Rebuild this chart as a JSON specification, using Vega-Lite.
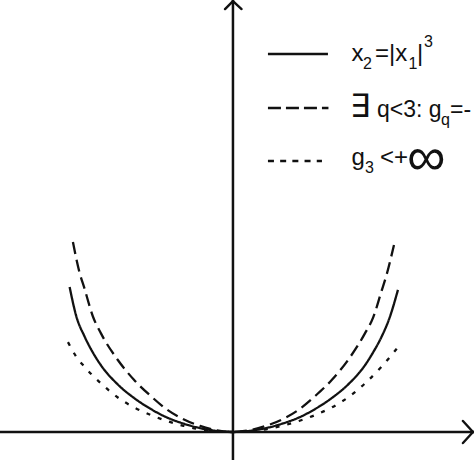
{
  "$schema": "https://vega.github.io/schema/vega-lite/v6.json",
  "width": 474,
  "height": 463,
  "autosize": {"type": "none"},
  "padding": 0,
  "background": "white",
  "config": {"view": {"stroke": null}, "text": {"font": "Liberation Sans", "color": "#111", "align": "left", "baseline": "alphabetic"}},
  "data": {"values": [{}]},
  "datasets": {
    "curves": [
      {"series": "solid", "x1": -0.99, "x2": 1.0},
      {"series": "solid", "x1": -0.95, "x2": 0.8},
      {"series": "solid", "x1": -0.9, "x2": 0.66},
      {"series": "solid", "x1": -0.85, "x2": 0.55},
      {"series": "solid", "x1": -0.8, "x2": 0.46},
      {"series": "solid", "x1": -0.7, "x2": 0.33},
      {"series": "solid", "x1": -0.6, "x2": 0.235},
      {"series": "solid", "x1": -0.5, "x2": 0.16},
      {"series": "solid", "x1": -0.4, "x2": 0.1},
      {"series": "solid", "x1": -0.3, "x2": 0.058},
      {"series": "solid", "x1": -0.2, "x2": 0.027},
      {"series": "solid", "x1": -0.1, "x2": 0.008},
      {"series": "solid", "x1": 0, "x2": 0},
      {"series": "solid", "x1": 0.1, "x2": 0.008},
      {"series": "solid", "x1": 0.2, "x2": 0.027},
      {"series": "solid", "x1": 0.3, "x2": 0.058},
      {"series": "solid", "x1": 0.4, "x2": 0.1},
      {"series": "solid", "x1": 0.5, "x2": 0.16},
      {"series": "solid", "x1": 0.6, "x2": 0.235},
      {"series": "solid", "x1": 0.7, "x2": 0.33},
      {"series": "solid", "x1": 0.8, "x2": 0.46},
      {"series": "solid", "x1": 0.85, "x2": 0.55},
      {"series": "solid", "x1": 0.9, "x2": 0.655},
      {"series": "solid", "x1": 0.95, "x2": 0.79},
      {"series": "solid", "x1": 1.0, "x2": 0.98},
      {"series": "dashed", "x1": -0.97, "x2": 1.31},
      {"series": "dashed", "x1": -0.93, "x2": 1.1},
      {"series": "dashed", "x1": -0.9, "x2": 0.99},
      {"series": "dashed", "x1": -0.85, "x2": 0.8},
      {"series": "dashed", "x1": -0.8, "x2": 0.68},
      {"series": "dashed", "x1": -0.7, "x2": 0.5},
      {"series": "dashed", "x1": -0.6, "x2": 0.36},
      {"series": "dashed", "x1": -0.5, "x2": 0.25},
      {"series": "dashed", "x1": -0.4, "x2": 0.155},
      {"series": "dashed", "x1": -0.3, "x2": 0.088},
      {"series": "dashed", "x1": -0.2, "x2": 0.042},
      {"series": "dashed", "x1": -0.1, "x2": 0.012},
      {"series": "dashed", "x1": 0, "x2": 0},
      {"series": "dashed", "x1": 0.1, "x2": 0.012},
      {"series": "dashed", "x1": 0.2, "x2": 0.042},
      {"series": "dashed", "x1": 0.3, "x2": 0.088},
      {"series": "dashed", "x1": 0.4, "x2": 0.155},
      {"series": "dashed", "x1": 0.5, "x2": 0.25},
      {"series": "dashed", "x1": 0.6, "x2": 0.36},
      {"series": "dashed", "x1": 0.7, "x2": 0.5},
      {"series": "dashed", "x1": 0.8, "x2": 0.68},
      {"series": "dashed", "x1": 0.85, "x2": 0.79},
      {"series": "dashed", "x1": 0.9, "x2": 0.97},
      {"series": "dashed", "x1": 0.93, "x2": 1.08},
      {"series": "dashed", "x1": 0.976, "x2": 1.29},
      {"series": "dotted", "x1": -1.0, "x2": 0.62},
      {"series": "dotted", "x1": -0.95, "x2": 0.52},
      {"series": "dotted", "x1": -0.9, "x2": 0.45},
      {"series": "dotted", "x1": -0.8, "x2": 0.335},
      {"series": "dotted", "x1": -0.7, "x2": 0.24},
      {"series": "dotted", "x1": -0.6, "x2": 0.17},
      {"series": "dotted", "x1": -0.5, "x2": 0.118},
      {"series": "dotted", "x1": -0.4, "x2": 0.076},
      {"series": "dotted", "x1": -0.3, "x2": 0.043},
      {"series": "dotted", "x1": -0.2, "x2": 0.019},
      {"series": "dotted", "x1": -0.1, "x2": 0.005},
      {"series": "dotted", "x1": 0, "x2": 0},
      {"series": "dotted", "x1": 0.1, "x2": 0.005},
      {"series": "dotted", "x1": 0.2, "x2": 0.019},
      {"series": "dotted", "x1": 0.3, "x2": 0.043},
      {"series": "dotted", "x1": 0.4, "x2": 0.076},
      {"series": "dotted", "x1": 0.5, "x2": 0.118},
      {"series": "dotted", "x1": 0.6, "x2": 0.17},
      {"series": "dotted", "x1": 0.7, "x2": 0.24},
      {"series": "dotted", "x1": 0.8, "x2": 0.335},
      {"series": "dotted", "x1": 0.9, "x2": 0.45},
      {"series": "dotted", "x1": 0.95, "x2": 0.515},
      {"series": "dotted", "x1": 1.02, "x2": 0.614}
    ]
  },
  "layer": [
    {
      "data": {"name": "curves"},
      "mark": {"type": "line", "color": "#111", "strokeWidth": 2.3, "interpolate": "monotone", "clip": false},
      "encoding": {
        "x": {"field": "x1", "type": "quantitative", "scale": {"domain": [-1.412, 1.461], "nice": false, "zero": false}, "axis": null},
        "y": {"field": "x2", "type": "quantitative", "scale": {"domain": [-0.2138, 2.9793], "nice": false, "zero": false}, "axis": null},
        "strokeDash": {"field": "series", "type": "nominal", "scale": {"domain": ["solid", "dashed", "dotted"], "range": [[1, 0], [12, 6], [4, 8]]}, "legend": null},
        "detail": {"field": "series"}
      }
    },
    {
      "mark": {"type": "rule", "color": "#111", "strokeWidth": 2.5},
      "encoding": {"x": {"datum": 0}, "y": {"datum": -0.193}, "y2": {"datum": 2.979}}
    },
    {
      "mark": {"type": "rule", "color": "#111", "strokeWidth": 2.5},
      "encoding": {"x": {"datum": -1.412}, "x2": {"datum": 1.461}, "y": {"datum": 0}}
    },
    {
      "mark": {"type": "rule", "color": "#111", "strokeWidth": 2.4, "strokeCap": "round"},
      "encoding": {"x": {"datum": -0.048}, "x2": {"datum": 0}, "y": {"datum": 2.917}, "y2": {"datum": 2.972}}
    },
    {
      "mark": {"type": "rule", "color": "#111", "strokeWidth": 2.4, "strokeCap": "round"},
      "encoding": {"x": {"datum": 0.052}, "x2": {"datum": 0}, "y": {"datum": 2.917}, "y2": {"datum": 2.972}}
    },
    {
      "mark": {"type": "rule", "color": "#111", "strokeWidth": 2.4, "strokeCap": "round"},
      "encoding": {"x": {"datum": 1.394}, "x2": {"datum": 1.455}, "y": {"datum": 0.076}, "y2": {"datum": 0}}
    },
    {
      "mark": {"type": "rule", "color": "#111", "strokeWidth": 2.4, "strokeCap": "round"},
      "encoding": {"x": {"datum": 1.394}, "x2": {"datum": 1.455}, "y": {"datum": -0.076}, "y2": {"datum": 0}}
    },
    {
      "mark": {"type": "rule", "color": "#111", "strokeWidth": 2.3},
      "encoding": {"x": {"datum": 0.2121}, "x2": {"datum": 0.5758}, "y": {"datum": 2.6069}}
    },
    {
      "mark": {"type": "rule", "color": "#111", "strokeWidth": 2.5, "strokeDash": [13, 5]},
      "encoding": {"x": {"datum": 0.2121}, "x2": {"datum": 0.5788}, "y": {"datum": 2.2345}}
    },
    {
      "mark": {"type": "rule", "color": "#111", "strokeWidth": 2.5, "strokeDash": [6, 6.2]},
      "encoding": {"x": {"datum": 0.2121}, "x2": {"datum": 0.5394}, "y": {"datum": 1.869}}
    },
    {"mark": {"type": "text", "fontSize": 24}, "encoding": {"x": {"datum": 0.7182}, "y": {"datum": 2.5586}, "text": {"value": "x"}}},
    {"mark": {"type": "text", "fontSize": 16}, "encoding": {"x": {"datum": 0.7879}, "y": {"datum": 2.5034}, "text": {"value": "2"}}},
    {"mark": {"type": "text", "fontSize": 24}, "encoding": {"x": {"datum": 0.8606}, "y": {"datum": 2.5586}, "text": {"value": "=|x"}}},
    {"mark": {"type": "text", "fontSize": 16}, "encoding": {"x": {"datum": 1.0636}, "y": {"datum": 2.5034}, "text": {"value": "1"}}},
    {"mark": {"type": "text", "fontSize": 24}, "encoding": {"x": {"datum": 1.1152}, "y": {"datum": 2.5586}, "text": {"value": "|"}}},
    {"mark": {"type": "text", "fontSize": 16}, "encoding": {"x": {"datum": 1.1576}, "y": {"datum": 2.6552}, "text": {"value": "3"}}},
    {"mark": {"type": "text", "fontSize": 32, "font": "DejaVu Sans"}, "encoding": {"x": {"datum": 0.7091}, "y": {"datum": 2.1724}, "text": {"value": "∃"}}},
    {"mark": {"type": "text", "fontSize": 23}, "encoding": {"x": {"datum": 0.8727}, "y": {"datum": 2.1724}, "text": {"value": "q<3: g"}}},
    {"mark": {"type": "text", "fontSize": 16}, "encoding": {"x": {"datum": 1.2606}, "y": {"datum": 2.1172}, "text": {"value": "q"}}},
    {"mark": {"type": "text", "fontSize": 23}, "encoding": {"x": {"datum": 1.3152}, "y": {"datum": 2.1724}, "text": {"value": "=-"}}},
    {"mark": {"type": "text", "fontSize": 24}, "encoding": {"x": {"datum": 0.7182}, "y": {"datum": 1.8414}, "text": {"value": "g"}}},
    {"mark": {"type": "text", "fontSize": 16}, "encoding": {"x": {"datum": 0.8}, "y": {"datum": 1.7862}, "text": {"value": "3"}}},
    {"mark": {"type": "text", "fontSize": 24}, "encoding": {"x": {"datum": 0.8909}, "y": {"datum": 1.8414}, "text": {"value": "<+"}}},
    {"mark": {"type": "text", "fontSize": 54}, "encoding": {"x": {"datum": 1.0545}, "y": {"datum": 1.7724}, "text": {"value": "∞"}}}
  ]
}
